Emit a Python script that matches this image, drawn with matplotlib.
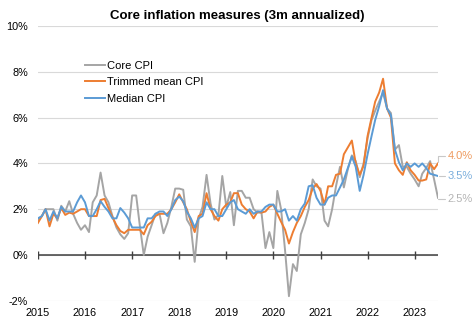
import pandas as pd
import matplotlib
matplotlib.use('Agg')
import matplotlib.pyplot as plt

plt.rcParams['font.family'] = ['Liberation Sans', 'DejaVu Sans']

# valori, mensili da gen 2015 a lug 2023
core_cpi = [
    1.5, 1.7, 2.0, 2.0, 2.0, 1.5, 2.15, 1.9, 2.35, 1.8, 1.4, 1.1,
    1.3, 1.0, 2.3, 2.6, 3.6, 2.6, 2.3, 1.7, 1.2, 0.9, 0.7, 0.95,
    2.6, 2.6, 1.3, 0.0, 0.8, 1.3, 1.8, 1.8, 0.95, 1.4, 2.1, 2.9,
    2.9, 2.85, 1.55, 1.25, -0.3, 1.6, 2.1, 3.5, 2.25, 1.55, 1.75, 3.45,
    2.1, 2.75, 1.3, 2.8, 2.8, 2.5, 2.5, 2.0, 1.85, 1.85, 0.3, 1.0,
    0.3, 2.8, 2.0, 0.2, -1.8, -0.4, -0.7, 0.9, 1.4, 2.0, 3.3, 3.0,
    2.9, 1.5, 1.25, 2.0, 3.0, 3.85, 2.95, 3.75, 4.35, 4.1, 3.4, 4.0,
    5.1, 5.9, 6.3, 6.7, 7.1, 6.4, 6.2, 4.6, 4.8, 3.85, 3.85, 3.55,
    3.3, 3.0, 3.55, 3.8, 4.1, 3.3, 2.5,
]
trimmed_mean = [
    1.4, 1.7, 2.0, 1.25, 1.8, 1.6, 2.05, 1.75, 1.85, 1.8, 1.9, 2.0,
    2.0, 1.7, 1.7, 1.7, 2.4, 2.45, 2.05, 1.65, 1.3, 1.05, 0.95, 1.1,
    1.1, 1.1, 1.1, 0.9, 1.3, 1.45, 1.7, 1.8, 1.8, 1.8, 2.0, 2.3,
    2.65, 2.3, 2.0, 1.45, 1.0, 1.7, 1.8, 2.7, 2.0, 1.7, 1.5, 2.0,
    2.2, 2.3, 2.7, 2.7, 2.2, 2.0, 1.9, 1.6, 1.9, 1.85, 1.9, 2.1,
    2.2, 1.8, 1.45, 1.1, 0.5, 1.0, 1.4, 1.7, 2.1, 2.4, 2.9, 3.1,
    2.8, 2.2, 3.0, 3.0, 3.5, 3.55, 4.4, 4.7, 5.0, 4.0, 3.5, 3.9,
    5.2, 6.0, 6.7, 7.1, 7.7, 6.4, 6.0, 4.0, 3.7, 3.5, 4.05, 3.7,
    3.5, 3.25, 3.25, 3.3, 4.0, 3.75, 4.0,
]
median_cpi = [
    1.6, 1.7, 2.0, 1.5, 1.9, 1.6, 2.1, 1.9, 1.9, 1.9, 2.3, 2.6,
    2.3, 1.7, 1.7, 2.0, 2.35, 2.1, 1.9, 1.6, 1.6, 2.05, 1.85, 1.6,
    1.2, 1.2, 1.2, 1.2, 1.6, 1.6, 1.8, 1.9, 1.9, 1.7, 2.0, 2.4,
    2.55, 2.35, 1.9, 1.6, 1.2, 1.6, 1.7, 2.3, 2.0, 2.0, 1.7, 1.7,
    2.0, 2.3, 2.4, 2.0, 1.9, 1.8, 2.0, 1.8, 1.9, 1.9, 2.1, 2.2,
    2.2, 1.9, 1.9, 2.0, 1.5, 1.7, 1.5, 2.0, 2.25, 3.0, 3.05, 2.5,
    2.2, 2.2, 2.5, 2.6, 2.6, 2.95, 3.3, 3.8, 4.3, 3.85, 2.8, 3.5,
    4.4, 5.2, 5.9, 6.5, 7.2, 6.4, 6.1, 4.6, 4.05, 3.7, 4.0, 3.85,
    4.0, 3.85, 4.0, 3.8, 3.55, 3.5, 3.45,
]
serie_nomi = ['Core CPI', 'Trimmed mean CPI', 'Median CPI']
colori = ['#A5A5A5', '#ED7D31', '#5B9BD5']
colori_etichette = ['#B4B4B4', '#EE9A5E', '#7AAEDC']

mesi = pd.date_range('2015-01-01', periods=len(core_cpi), freq='MS')
anni = pd.date_range('2015-01-01', '2023-01-01', freq='YS')
y_ticks = [-2, 0, 2, 4, 6, 8, 10]

fig = plt.figure(figsize=(4.74, 3.22), dpi=100)
ax = fig.add_axes([0.080, 0.066, 0.844, 0.853])

linee = []
for serie, nome, col in zip([core_cpi, trimmed_mean, median_cpi], serie_nomi, colori):
    l, = ax.plot(mesi, serie, color=col, lw=1.4, label=nome, zorder=3)
    linee.append(l)

# asse dello zero con le tacche degli anni
ax.axhline(0, color='#404040', lw=1.1, zorder=2)
ax.plot(anni, [0] * len(anni), ls='none', marker='|', ms=6, mew=1.0, color='#404040', zorder=2)

ax.set_ylim(-2, 10)
ax.set_xlim(mesi[0], mesi[-1])
ax.set_yticks(y_ticks)
ax.set_yticklabels([f'{v}%' for v in y_ticks])
ax.set_xticks(anni)
ax.set_xticklabels([str(a.year) for a in anni])
ax.tick_params(axis='both', length=0, labelsize=7.8, colors='black')
ax.tick_params(axis='y', pad=7)
ax.tick_params(axis='x', pad=5)
ax.grid(axis='y', color='#D9D9D9', lw=0.8)
ax.set_axisbelow(True)
for s in ax.spines.values():
    s.set_visible(False)

fig.text(0.5, 1 - 16 / 322, 'Core inflation measures (3m annualized)',
         ha='center', va='center', fontsize=9.5, fontweight='bold')

ax.legend(handles=linee, loc='upper left', bbox_to_anchor=(0.1175, 0.874),
          frameon=False, fontsize=8, handlelength=1.8, handletextpad=0.15,
          labelspacing=0.6, borderpad=0, borderaxespad=0)

# etichette finali a destra
offsets = [(7, -1), (7, 5), (7, 0)]
for serie, col, off in zip([core_cpi, trimmed_mean, median_cpi], colori_etichette, offsets):
    ax.annotate(f'{serie[-1]:.1f}%', xy=(mesi[-1], serie[-1]), xytext=off,
                textcoords='offset points', va='center', ha='left', fontsize=8,
                color=col, annotation_clip=False,
                arrowprops=dict(arrowstyle='-', color='#C8C8C8', lw=0.8,
                                shrinkA=0, shrinkB=1,
                                connectionstyle='angle,angleA=0,angleB=90'))

fig.savefig('out.png', dpi=100)
